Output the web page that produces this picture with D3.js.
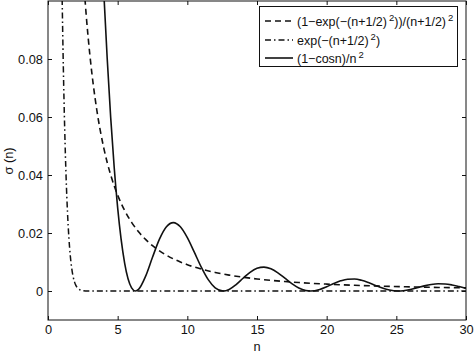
<!DOCTYPE html>
<html>
<head>
<meta charset="utf-8">
<script src="https://cdn.jsdelivr.net/npm/d3@7"></script>
<style>
  html, body { margin: 0; padding: 0; background: #fff; }
  svg { display: block; font-family: "Liberation Sans", Arial, Helvetica, sans-serif; }
</style>
</head>
<body>
<svg id="chart" width="474" height="355"></svg>
<script>
// ---- data ----
const xTicks = [0, 5, 10, 15, 20, 25, 30];
const yTicks = [0, 0.02, 0.04, 0.06, 0.08];
const yTickLabels = ["0", "0.02", "0.04", "0.06", "0.08"];

// dashed: (1-exp(-(n+1/2)^2))/(n+1/2)^2
const dashedN = [2.5, 2.75, 3, 3.25, 3.5, 4, 4.25, 4.5, 5, 5.5, 6, 6.5, 7, 7.5, 8, 8.5, 9, 9.5, 10, 11, 12, 13, 14, 15, 16, 17, 18, 19, 20, 22, 24, 26, 28, 30];
const dashedV = [0.1111, 0.09467, 0.08163, 0.07111, 0.0625, 0.04938, 0.04432, 0.04, 0.03306, 0.02778, 0.02367, 0.02041, 0.01778, 0.015625, 0.01384, 0.01235, 0.01108, 0.01, 0.00907, 0.00756, 0.0064, 0.005487, 0.004756, 0.004162, 0.003673, 0.003265, 0.002922, 0.00263, 0.00238, 0.001975, 0.001666, 0.001424, 0.001231, 0.001075];

// dash-dot: exp(-(n+1/2)^2)
const dashdotN = [1.0, 1.1, 1.2, 1.3, 1.4, 1.5, 1.6, 1.7, 1.8, 1.9, 2.0, 2.2, 2.4, 2.7, 3.0, 30];
const dashdotV = [0.1054, 0.0773, 0.05558, 0.03916, 0.02705, 0.01832, 0.01216, 0.00791, 0.00504, 0.00315, 0.00193, 0.00068, 0.000222, 0.0000357, 0.0000048, 0];

// solid: (1-cos n)/n^2
const solidN = [4, 4.25, 4.5, 4.75, 5, 5.5, 6, 6.28, 6.5, 7, 7.5, 8, 8.5, 9, 9.5, 10, 10.5, 11, 11.5, 12, 12.57, 13, 13.5, 14, 14.5, 15, 15.5, 16, 16.5, 17, 17.5, 18, 18.5, 18.85, 19.5, 20, 20.5, 21, 21.5, 22, 22.5, 23, 23.5, 24, 24.5, 25.13, 25.5, 26, 26.5, 27, 27.5, 28, 28.5, 29, 29.5, 30];
const solidV = [0.10335, 0.08006, 0.05979, 0.04266, 0.02865, 0.009631, 0.001106, 0, 0.000554, 0.005022, 0.011615, 0.017898, 0.022173, 0.023594, 0.022129, 0.018391, 0.013384, 0.008228, 0.003907, 0.001084, 0, 0.000548, 0.002223, 0.004404, 0.006444, 0.007821, 0.008235, 0.007647, 0.006253, 0.004412, 0.002549, 0.001048, 0.000177, 0, 0.000537, 0.00148, 0.002569, 0.00351, 0.004071, 0.004132, 0.0037, 0.002898, 0.001923, 0.001, 0.000323, 0, 0.000103, 0.000522, 0.001136, 0.001772, 0.002266, 0.002503, 0.002431, 0.002079, 0.001537, 0.00094];

const legendLabels = [
  [["(1−exp(−(n+1/2)", false], ["2", true], ["))/(n+1/2)", false], ["2", true]],
  [["exp(−(n+1/2)", false], ["2", true], [")", false]],
  [["(1−cosn)/n", false], ["2", true]]
];

// ---- layout ----
const svg = d3.select("#chart");
const L = 48, R = 466, T = 1, B = 320;
const x = d3.scaleLinear().domain([0, 30]).range([L, R]);
const y = d3.scaleLinear().domain([-0.01, 0.1]).range([B, T]);

const fontSize = 12.8;
const ink = "#111";

svg.append("defs").append("clipPath").attr("id", "clip")
  .append("rect").attr("x", L).attr("y", T).attr("width", R - L).attr("height", B - T);

// axes (MATLAB style: ticks inward on all four sides)
const gx = svg.append("g").attr("transform", `translate(0,${B})`)
  .call(d3.axisBottom(x).tickValues(xTicks).tickSize(-4).tickPadding(5).tickFormat(d3.format("d")));
const gxTop = svg.append("g").attr("transform", `translate(0,${T})`)
  .call(d3.axisTop(x).tickValues(xTicks).tickSize(-4).tickFormat(""));
const gy = svg.append("g").attr("transform", `translate(${L},0)`)
  .call(d3.axisLeft(y).tickValues(yTicks).tickSize(-4).tickPadding(5).tickFormat((d, i) => yTickLabels[i]));
const gyR = svg.append("g").attr("transform", `translate(${R},0)`)
  .call(d3.axisRight(y).tickValues(yTicks).tickSize(-4).tickFormat(""));

[gx, gxTop, gy, gyR].forEach(g => {
  g.select(".domain").remove();
  g.selectAll("line").attr("stroke", ink).attr("stroke-width", 1);
  g.selectAll("text").attr("fill", ink).attr("font-size", fontSize)
    .attr("font-family", "'Liberation Sans', Arial, sans-serif");
});

svg.append("rect").attr("x", L).attr("y", T).attr("width", R - L).attr("height", B - T)
  .attr("fill", "none").attr("stroke", ink).attr("stroke-width", 1);

// axis labels
svg.append("text").attr("x", x(15)).attr("y", 351).attr("text-anchor", "middle")
  .attr("font-size", fontSize).attr("fill", ink).text("n");
svg.append("text").attr("transform", `translate(13,${161}) rotate(-90)`)
  .attr("text-anchor", "middle").attr("font-size", fontSize).attr("fill", ink).text("σ (n)");

// curves
const line = d3.line().x(d => x(d[0])).y(d => y(d[1])).curve(d3.curveMonotoneX);
const plot = svg.append("g").attr("clip-path", "url(#clip)");

const styles = {
  dashed: { dash: "6,4" },
  dashdot: { dash: "6,3,1.5,3" },
  solid: { dash: null }
};

plot.append("path").datum(d3.zip(dashedN, dashedV))
  .attr("d", line).attr("fill", "none").attr("stroke", ink).attr("stroke-width", 1.6)
  .attr("stroke-dasharray", styles.dashed.dash);
plot.append("path").datum(d3.zip(dashdotN, dashdotV))
  .attr("d", line).attr("fill", "none").attr("stroke", ink).attr("stroke-width", 1.5)
  .attr("stroke-dasharray", styles.dashdot.dash);
plot.append("path").datum(d3.zip(solidN, solidV))
  .attr("d", line).attr("fill", "none").attr("stroke", ink).attr("stroke-width", 1.6);

// legend
const lg = svg.append("g");
lg.append("rect").attr("x", 259.5).attr("y", 6.5).attr("width", 198).attr("height", 60)
  .attr("fill", "#fff").attr("stroke", ink).attr("stroke-width", 1);
const rowY = [21, 40, 58];
const rowDash = [styles.dashed.dash, styles.dashdot.dash, null];
legendLabels.forEach((parts, i) => {
  lg.append("line").attr("x1", 265).attr("x2", 293).attr("y1", rowY[i]).attr("y2", rowY[i])
    .attr("stroke", ink).attr("stroke-width", 1.6)
    .attr("stroke-dasharray", rowDash[i]);
  const t = lg.append("text").attr("x", 297).attr("y", rowY[i] + 4.5)
    .attr("font-size", 12.5).attr("fill", ink);
  let sup = false;
  parts.forEach(([s, isSup]) => {
    const ts = t.append("tspan").text(s);
    if (isSup) {
      ts.attr("font-size", 9.5).attr("dy", -5).attr("dx", 2);
      sup = true;
    } else if (sup) {
      ts.attr("dy", 5);
      sup = false;
    }
  });
});
</script>
</body>
</html>
